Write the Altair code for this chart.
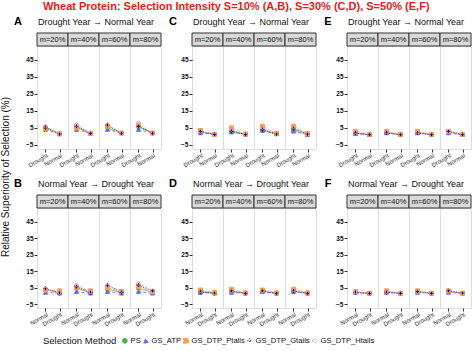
import altair as alt
import pandas as pd

FONT = "Liberation Sans, Arial, Helvetica, sans-serif"

methods = ["PS", "GS_ATP", "GS_DTP_Ptails", "GS_DTP_Gtails", "GS_DTP_Htails"]
colors = ["#4DAF4A", "#6A6AEE", "#F7A24B", "#111111", "#E683D6"]
fills = ["#4DAF4A", "#6A6AEE", "#F7A24B", "transparent", "transparent"]
shapes = ["circle", "triangle-up", "square", "M-1,0L1,0M0,-1L0,1", "diamond"]
dashes = [[1, 0], [3, 2], [4, 2], [1, 1.5], [2, 2]]
m_levels = ["m=20%", "m=40%", "m=60%", "m=80%"]

# values per m level (rows) and method (PS, GS_ATP, Ptails, Gtails, Htails)
A_first = [[5.5, 4.0, 4.5, 5.0, 6.0], [5.5, 4.0, 5.0, 6.0, 7.0], [5.0, 4.0, 6.0, 6.5, 7.0], [5.5, 4.0, 6.5, 6.0, 8.0]]
A_second = [[1.5, 1.5, 1.5, 1.5, 1.2], [1.8, 1.8, 1.8, 1.8, 1.6], [2.0, 2.0, 2.0, 2.0, 1.8], [2.0, 2.0, 2.0, 2.0, 1.8]]
B_first = [[3.5, 2.0, 3.5, 4.5, 4.0], [4.5, 2.5, 5.0, 5.5, 6.5], [4.0, 2.5, 5.0, 6.5, 6.0], [4.5, 2.5, 5.5, 6.5, 7.5]]
B_second = [[2.0, 1.5, 3.0, 1.5, 2.0], [2.0, 1.5, 3.0, 2.0, 2.5], [2.0, 1.5, 2.5, 2.0, 3.0], [2.0, 1.5, 2.5, 3.0, 3.0]]
C_first = [[2.5, 2.0, 3.5, 3.0, 3.0], [3.0, 2.5, 5.0, 3.0, 4.0], [3.5, 3.5, 6.0, 4.0, 5.0], [3.5, 3.0, 6.0, 4.5, 5.5]]
C_second = [[1.2, 1.2, 1.2, 1.2, 1.0], [1.2, 1.2, 1.4, 1.2, 1.0], [1.5, 1.5, 1.8, 1.5, 1.2], [1.5, 1.0, 1.8, 1.5, 1.2]]
D_first = [[2.0, 2.0, 3.5, 2.5, 3.0], [2.5, 2.0, 4.0, 3.0, 3.0], [2.5, 2.5, 3.5, 3.0, 3.0], [2.5, 2.5, 4.0, 3.0, 3.5]]
D_second = [[1.8, 1.5, 2.0, 1.5, 1.8], [1.5, 1.5, 1.8, 1.5, 1.5], [1.5, 1.5, 1.8, 1.5, 1.5], [1.5, 1.5, 1.8, 1.5, 1.5]]
E_first = [[2.0, 1.5, 3.0, 2.0, 2.5], [2.5, 2.0, 3.0, 2.0, 2.5], [2.5, 2.0, 3.0, 2.0, 2.5], [2.5, 2.0, 3.0, 3.0, 3.0]]
E_second = [[1.0, 1.0, 1.2, 1.0, 1.0], [1.0, 1.0, 1.2, 1.0, 1.0], [1.0, 1.0, 1.2, 1.0, 1.0], [1.2, 1.0, 1.2, 1.0, 1.0]]
F_first = [[2.0, 2.0, 2.5, 2.0, 2.5], [2.5, 2.0, 3.0, 2.0, 2.5], [2.5, 2.0, 3.0, 2.5, 2.5], [2.5, 2.0, 3.0, 3.0, 3.0]]
F_second = [[1.5, 1.5, 1.5, 1.5, 1.5], [1.5, 1.5, 1.5, 1.5, 1.5], [1.5, 1.5, 1.5, 1.5, 1.5], [1.5, 1.5, 1.5, 1.8, 1.5]]

DN = ["Drought", "Normal"]
ND = ["Normal", "Drought"]
panels = [
    ("A", "Drought Year \u2192 Normal Year", DN, A_first, A_second),
    ("C", "Drought Year \u2192 Normal Year", DN, C_first, C_second),
    ("E", "Drought Year \u2192 Normal Year", DN, E_first, E_second),
    ("B", "Normal Year \u2192 Drought Year", ND, B_first, B_second),
    ("D", "Normal Year \u2192 Drought Year", ND, D_first, D_second),
    ("F", "Normal Year \u2192 Drought Year", ND, F_first, F_second),
]

y_ticks = [-5, 5, 15, 25, 35, 45]
FW = 31
STRIP = 13

legend = alt.Legend(
    title="Selection Method", orient="none", legendX=6, legendY=291,
    direction="horizontal", titleOrient="left", titleFontSize=9.5,
    titleFontWeight="normal", titleColor="#111", labelFontSize=7.6,
    labelFont="Liberation Sans", titleFont="Liberation Sans",
    labelColor="#111", symbolSize=24, symbolStrokeWidth=1, columnPadding=0,
    labelOffset=2, titleAnchor="middle", titleBaseline="middle", titlePadding=4,
    gridAlign="none",
)


def facet(pidx, mi, heightv):
    letter, sub, order, first, second = panels[pidx]
    rows = []
    for k, meth in enumerate(methods):
        rows.append({"Year": order[0], "Value": first[mi][k], "Method": meth})
        rows.append({"Year": order[1], "Value": second[mi][k], "Method": meth})
    df = pd.DataFrame(rows)
    first_col = mi == 0
    x = alt.X("Year:N", sort=order,
              scale=alt.Scale(type="point", padding=0.6),
              axis=alt.Axis(title=None, labelAngle=-30, labelAlign="right",
                            labelBaseline="top", labelFontSize=6, labelColor="#333",
                            tickSize=3, tickColor="#333", labelPadding=0,
                            domain=False, grid=False))
    yaxis = (alt.Axis(title=None, values=y_ticks, labelFontSize=6.5,
                      labelFontWeight="bold", labelColor="#111", tickSize=3,
                      tickColor="#333", labelPadding=1, domain=False, grid=False)
             if first_col else None)
    y = alt.Y("Value:Q", scale=alt.Scale(domain=[-7.4, 53.2], nice=False, zero=False),
              axis=yaxis)
    color = alt.Color("Method:N", scale=alt.Scale(domain=methods, range=colors), legend=legend)
    base = alt.Chart(df)
    lines = base.mark_line(strokeWidth=0.8).encode(
        x=x, y=y, color=color,
        strokeDash=alt.StrokeDash("Method:N", scale=alt.Scale(domain=methods, range=dashes), legend=legend),
    )
    pts = base.mark_point(size=16, filled=False, strokeWidth=1, opacity=1).encode(
        x=x, y=y, color=color,
        shape=alt.Shape("Method:N", scale=alt.Scale(domain=methods, range=shapes), legend=legend),
        fill=alt.Fill("Method:N", scale=alt.Scale(domain=methods, range=fills), legend=None),
    )
    sdf = pd.DataFrame({"label": [m_levels[mi]]})
    strip_rect = alt.Chart(sdf).mark_rect(fill="#D9D9D9", stroke="#333", strokeWidth=1).encode(
        x=alt.value(0), x2=alt.value(FW), y=alt.value(-STRIP), y2=alt.value(0))
    strip_txt = alt.Chart(sdf).mark_text(fontSize=7.5, color="#111", font=FONT).encode(
        text="label:N", x=alt.value(FW / 2), y=alt.value(-STRIP / 2))
    layers = [strip_rect, strip_txt, lines, pts]
    if first_col:
        ldf = pd.DataFrame({"letter": [letter], "sub": [sub]})
        layers.append(alt.Chart(ldf).mark_text(fontSize=11, fontWeight="bold", color="#000", font=FONT).encode(
            text="letter:N", x=alt.value(-19), y=alt.value(-24)))
        layers.append(alt.Chart(ldf).mark_text(fontSize=9, color="#111", align="left", font=FONT).encode(
            text="sub:N", x=alt.value(1), y=alt.value(-24)))
        if pidx == 0:
            tdf = pd.DataFrame({"t": ["Relative Superiority of Selection (%)"]})
            layers.append(alt.Chart(tdf).mark_text(fontSize=10, angle=270, color="#111", font=FONT).encode(
                text="t:N", x=alt.value(-31), y=alt.value(131)))
    return alt.layer(*layers).properties(width=FW, height=heightv)


def spacer(heightv):
    return alt.Chart(pd.DataFrame({"s": [""]})).mark_text(opacity=0).encode(
        text="s:N", x=alt.value(0), y=alt.value(0)
    ).properties(width=FW, height=heightv, view=alt.ViewBackground(stroke="transparent", fill="transparent"))


cells = []
for r, (pids, hv) in enumerate([([0, 1, 2], 103), ([3, 4, 5], 100)]):
    for j, pidx in enumerate(pids):
        if j > 0:
            cells.append(spacer(hv))
        for mi in range(4):
            cells.append(facet(pidx, mi, hv))

chart = alt.concat(
    *cells, columns=14, spacing={"row": 59, "column": 0}, bounds="flush",
    title=alt.TitleParams(
        "Wheat Protein: Selection Intensity S=10% (A,B), S=30% (C,D), S=50% (E,F)",
        color="#E8191E", fontSize=11, fontWeight="bold", anchor="middle", offset=4, font=FONT),
).properties(
    padding={"left": 0, "top": 0, "right": 0, "bottom": 0}
).configure_view(
    stroke="#333", strokeWidth=1, fill="white"
).configure_legend(
    gridAlign="none", columnPadding=0
).configure(
    font=FONT, background="white"
)

chart.save("out.html", embed_options={"renderer": "svg", "actions": False})
